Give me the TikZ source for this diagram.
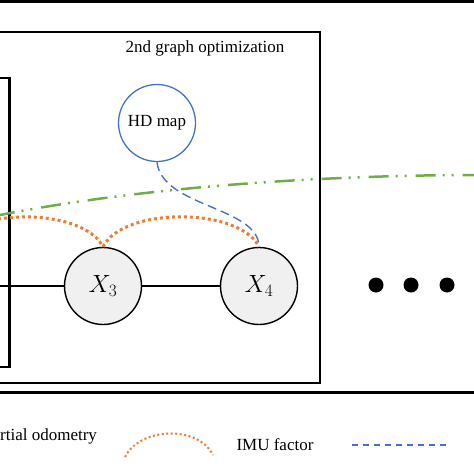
\documentclass[tikz,border=0pt]{standalone}
\usepackage{fontspec}
\setmainfont{Liberation Serif}
\usepackage{amsmath}
\definecolor{imuorange}{RGB}{237,125,49}
\definecolor{odogreen}{RGB}{112,173,71}
\definecolor{mapblue}{RGB}{68,114,196}

\begin{document}
\begin{tikzpicture}[x=1pt,y=-1pt,font=\fontsize{17}{20}\selectfont,
  varnode/.style={circle,draw,line width=1.4pt,fill=black!6,minimum size=77pt,inner sep=0pt,font=\fontsize{24}{28}\selectfont},
  mapnode/.style={circle,draw=mapblue,line width=1.3pt,minimum size=77pt,inner sep=0pt},
  frame/.style={line width=2.5pt},
  imu/.style={imuorange,line width=3pt,dash pattern=on 3pt off 3pt},
  hdlink/.style={mapblue,line width=1.4pt,dash pattern=on 9pt off 5pt},
  odo/.style={odogreen,line width=2.5pt,dash pattern=on 20pt off 7pt on 2pt off 7pt on 2pt off 9pt}]
  \useasboundingbox (0,0) rectangle (474,474);
  \clip (0,0) rectangle (474,474);
  % frames
  \draw[line width=3pt] (-10,1) -- (484,1);
  \draw[frame] (-10,392.5) -- (484,392.5);
  \draw[frame] (-20,32) rectangle (320,383);
  \node (optlabel) at (205,48) {2nd graph optimization};
  \draw[frame] (-20,78) rectangle (9.5,367);
  % graph
  \node[mapnode] (hdmap) at (157,123) {HD map};
  \node[varnode] (x3) at (103,286) {$X_3$};
  \node[varnode] (x4) at (259,286) {$X_4$};
  \coordinate (x2top) at (-53,247);
  \coordinate (left) at (-10,286);
  \draw[line width=1.4pt] (left) -- (x3) -- (x4);
  \foreach \x/\n in {376/a,411/b,447/c} {\fill (\x,285) circle (7.5);}
  % factors
  \coordinate (gstart) at (-5,216);
  \coordinate (gend) at (480,175);
  \draw[odo] (gstart) .. controls +(150,-30) and +(-150,0) .. (gend);
  \draw[imu] (x2top) .. controls +(20,-40) and +(-20,-40) .. (x3.north);
  \draw[imu] (x3.north) .. controls +(20,-40) and +(-20,-40) .. (x4.north);
  \draw[hdlink] (hdmap.south) .. controls +(5,45) and +(0,-40) .. (x4.north);
  % legend
  \node[anchor=west,inner sep=0pt] (odolabel) at (0,436) {rtial odometry};
  \coordinate (imuA) at (125,457);
  \coordinate (imuB) at (213,455);
  \draw[imuorange,line width=2pt,dash pattern=on 2pt off 2.5pt] (imuA) .. controls +(15,-30) and +(-15,-30) .. (imuB);
  \node (imulabel) at (275,445) {IMU factor};
  \coordinate (mapA) at (352,445);
  \coordinate (mapB) at (450,445);
  \draw[hdlink,line width=1.2pt,dash pattern=on 6pt off 5pt] (mapA) -- (mapB);
\end{tikzpicture}
\end{document}
